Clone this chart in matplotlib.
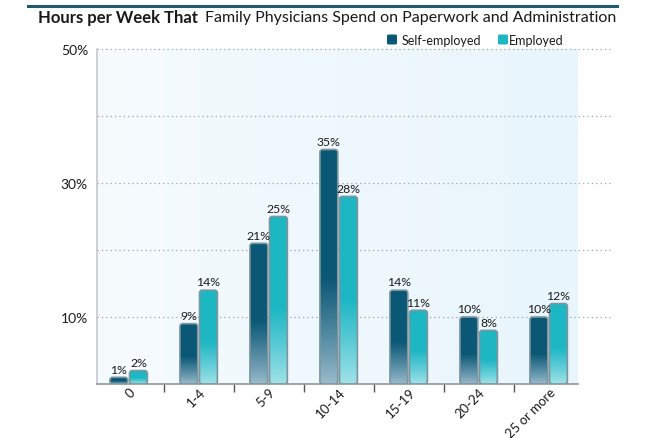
import matplotlib
matplotlib.use('Agg')
import matplotlib.pyplot as plt
import numpy as np
from matplotlib.patches import FancyBboxPatch
from matplotlib.colors import to_rgb
import matplotlib.transforms as mtransforms
from matplotlib.lines import Line2D

categories = ['0', '1-4', '5-9', '10-14', '15-19', '20-24', '25 or more']
self_employed = [1, 9, 21, 35, 14, 10, 10]
employed = [2, 14, 25, 28, 11, 8, 12]
series_names = ['Self-employed', 'Employed']
y_ticks = [10, 30, 50]
y_tick_labels = ['10%', '30%', '50%']
grid_levels = [10, 20, 30, 40, 50]
title_bold = 'Hours per Week That'
title_rest = 'Family Physicians Spend on Paperwork and Administration'

plt.rcParams['font.family'] = ['Lato', 'DejaVu Sans']

W, H = 645, 439
fig = plt.figure(figsize=(6.45, 4.39), dpi=100)
L, R, B, T = 97, 578, 385, 50
ax = fig.add_axes([L / W, 1 - B / H, (R - L) / W, (B - T) / H])
XL = (-0.457, 6.414)

# background gradient
g = np.linspace(0, 1, 256).reshape(1, -1, 1)
c0 = np.array(to_rgb('#f6fbfe')); c1 = np.array(to_rgb('#e8f5fc'))
bg = c0 + (c1 - c0) * g
ax.imshow(bg, extent=[XL[0], XL[1], 0, 50], aspect='auto', zorder=0, origin='lower')

# gridlines (extend beyond plot on right)
bt = mtransforms.blended_transform_factory(ax.transAxes, ax.transData)
for yv in grid_levels:
    ax.add_line(Line2D([0, (612 - L) / (R - L)], [yv, yv], transform=bt,
                       ls=(0, (1, 2.5)), color='#9aa7ab', lw=0.9, clip_on=False, zorder=1))

x = np.arange(len(categories))
offs = [-0.145, 0.135]
w = 0.255
top_cols = ['#0b5876', '#1db7c4']
bot_cols = ['#9bbccd', '#a3e3e9']
edge = '#7d959f'
ratio = 70.0 / ((B - T) / 50.0)

for s, vals in enumerate([self_employed, employed]):
    bars = ax.bar(x + offs[s], vals, w, color='none', edgecolor='none', zorder=2)
    tc = np.array(to_rgb(top_cols[s])); bc = np.array(to_rgb(bot_cols[s]))
    for b, v in zip(bars, vals):
        x0, y0 = b.get_x(), b.get_y()
        bw, bh = b.get_width(), b.get_height()
        patch = FancyBboxPatch((x0, y0), bw, bh,
                               boxstyle='round,pad=0,rounding_size=0.04',
                               mutation_aspect=ratio, fc='none', ec=edge, lw=1.2, zorder=4)
        ax.add_patch(patch)
        t = np.linspace(0, 1, 200)
        mix = np.clip(t / 0.45, 0, 1) ** 0.9
        col = bc + (tc - bc) * mix[:, None]
        im = ax.imshow(col.reshape(-1, 1, 3), extent=[x0, x0 + bw, y0, y0 + bh],
                       aspect='auto', origin='lower', zorder=3)
        im.set_clip_path(patch)
        ax.annotate(f'{v}%', xy=(x0 + bw / 2, v), xytext=(0, 2), textcoords='offset points',
                    ha='center', va='bottom', fontsize=8.8, color='#1a1a1a', zorder=5)

ax.set_xlim(*XL)
ax.set_ylim(0, 50)

# spines
for sp in ['top', 'right']:
    ax.spines[sp].set_visible(False)
ax.spines['left'].set_color('#c3c9cc')
ax.spines['left'].set_linewidth(1.2)
ax.spines['bottom'].set_color('#8f9699')
ax.spines['bottom'].set_linewidth(1.2)

ax.set_yticks(y_ticks)
ax.set_yticklabels(y_tick_labels, fontsize=10, color='#1a1a1a')
ax.tick_params(axis='y', length=0, pad=6.5)

ax.set_xticks([i + 0.5 for i in range(len(categories) - 1)])
ax.set_xticklabels([])
ax.tick_params(axis='x', length=6, width=1, color='#555555', direction='out')
for i, c in enumerate(categories):
    ax.annotate(c, xy=(i, 0), xycoords='data', xytext=(0, -1), textcoords='offset points',
                rotation=45, ha='right', va='top', rotation_mode='anchor',
                fontsize=9.5, color='#1a1a1a', annotation_clip=False)

# title and top rule
fig.add_artist(Line2D([28 / W, 617 / W], [1 - 7 / H, 1 - 7 / H], color='#1f5a6d', lw=2.2))
tb = fig.text(38 / W, 1 - 18 / H, title_bold, fontsize=12, fontweight='bold',
              color='#1a1a1a', ha='left', va='center')
fig.canvas.draw()
r = fig.canvas.get_renderer()
bb = tb.get_window_extent(r)
start = bb.x1 + 7
tr = fig.text(start / W, 1 - 18 / H, title_rest, fontsize=12, color='#1a1a1a',
              ha='left', va='center')
wr = tr.get_window_extent(r).width
target = 614 - start
tr.set_fontsize(12 * target / wr)

# legend
for (xs, xt, name, c) in [(387, 402, series_names[0], top_cols[0]),
                          (498, 509, series_names[1], top_cols[1])]:
    fig.add_artist(FancyBboxPatch((xs / W, 1 - 45.5 / H), 10 / W, 10 / H,
                                  boxstyle='round,pad=0,rounding_size=0.003',
                                  transform=fig.transFigure, fc=c, ec='none'))
    fig.text(xt / W, 1 - 41 / H, name, fontsize=9, color='#1a1a1a',
             ha='left', va='center')

fig.savefig('out.png', dpi=100)
